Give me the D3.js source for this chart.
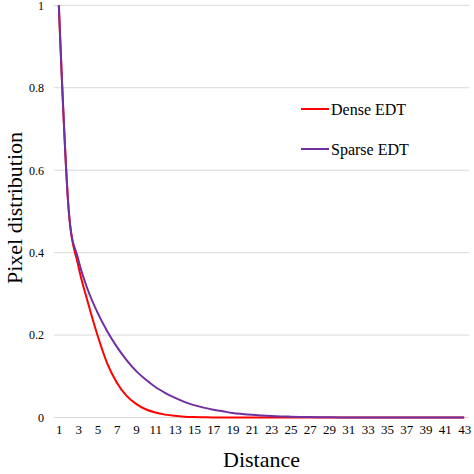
<!DOCTYPE html>
<html>
<head>
<meta charset="utf-8">
<script src="https://cdn.jsdelivr.net/npm/d3@7"></script>
<style>
  body { margin: 0; background: #fff; }
  text { font-family: "Liberation Serif", "Times New Roman", serif; fill: #000; }
</style>
</head>
<body>
<svg id="chart" width="474" height="474"></svg>
<script>
// distance categories 1..43
const distances = d3.range(1, 44);

// values
const denseEDT = [1.0, 0.51, 0.37, 0.28, 0.2, 0.132, 0.085, 0.053, 0.033, 0.02,
  0.012, 0.007, 0.004, 0.002, 0.001, 0.0005, 0, 0, 0, 0,
  0, 0, 0, 0, 0, 0, 0, 0, 0, 0,
  0, 0, 0, 0, 0, 0, 0, 0, 0, 0,
  0, 0, 0];
const sparseEDT = [1.0, 0.51, 0.385, 0.31, 0.255, 0.21, 0.172, 0.14, 0.113, 0.092,
  0.074, 0.06, 0.048, 0.038, 0.03, 0.024, 0.019, 0.015, 0.011, 0.0085,
  0.0065, 0.005, 0.0037, 0.0027, 0.002, 0.0014, 0.001, 0.0007, 0.0005, 0.0003,
  0.0002, 0.0001, 0, 0, 0, 0, 0, 0, 0, 0,
  0, 0, 0];

const yTicks = [0, 0.2, 0.4, 0.6, 0.8, 1];
const xTickLabels = distances.filter(d => d % 2 === 1);

const seriesNames = ["Dense EDT", "Sparse EDT"];
const seriesColors = ["#ff0000", "#7030a0"];

const svg = d3.select("#chart");

// plot area
const plotLeft = 54, plotRight = 469, plotTop = 5.3, plotBottom = 417.5;

const x = d3.scalePoint()
  .domain(distances)
  .range([plotLeft, plotRight])
  .padding(0.5);

const y = d3.scaleLinear()
  .domain([0, 1])
  .range([plotBottom, plotTop]);

// gridlines
svg.append("g")
  .selectAll("line")
  .data(yTicks)
  .enter()
  .append("line")
    .attr("x1", plotLeft)
    .attr("x2", plotRight)
    .attr("y1", d => y(d))
    .attr("y2", d => y(d))
    .attr("stroke", "#d9d9d9")
    .attr("stroke-width", 1);

// y axis labels
const yAxis = svg.append("g")
  .attr("transform", `translate(${plotLeft - 10},0)`)
  .call(d3.axisLeft(y).tickValues(yTicks).tickSize(0).tickPadding(0)
    .tickFormat(d => d3.format("")(d)));
yAxis.select(".domain").remove();
yAxis.selectAll("text")
  .style("font-family", "Liberation Serif, serif")
  .style("font-size", "12px");

// x axis labels
const xAxis = svg.append("g")
  .attr("transform", `translate(0,${plotBottom + 7})`)
  .call(d3.axisBottom(x).tickValues(xTickLabels).tickSize(0).tickPadding(0));
xAxis.select(".domain").remove();
xAxis.selectAll("text")
  .style("font-family", "Liberation Serif, serif")
  .style("font-size", "13px");

// lines
const line = d3.line()
  .x((d, i) => x(distances[i]))
  .y(d => y(d))
  .curve(d3.curveCardinal.tension(0));

[denseEDT, sparseEDT].forEach(function(values, k) {
  svg.append("path")
    .datum(values)
    .attr("d", line)
    .attr("fill", "none")
    .attr("stroke", seriesColors[k])
    .attr("stroke-width", 2);
});

// legend
const legend = svg.append("g")
  .selectAll("g")
  .data(seriesNames)
  .enter()
  .append("g")
    .attr("transform", (d, i) => `translate(301,${109 + i * 40})`);
legend.append("line")
  .attr("x1", 0)
  .attr("x2", 28)
  .attr("stroke", (d, i) => seriesColors[i])
  .attr("stroke-width", 2);
legend.append("text")
  .attr("x", 30)
  .attr("y", 5.5)
  .style("font-size", "16px")
  .text(d => d);

// axis titles
svg.append("text")
  .attr("x", (plotLeft + plotRight) / 2)
  .attr("y", 467)
  .attr("text-anchor", "middle")
  .style("font-size", "22px")
  .text("Distance");

svg.append("text")
  .attr("transform", "translate(22,208) rotate(-90)")
  .attr("text-anchor", "middle")
  .style("font-size", "22px")
  .text("Pixel distribution");
</script>
</body>
</html>
